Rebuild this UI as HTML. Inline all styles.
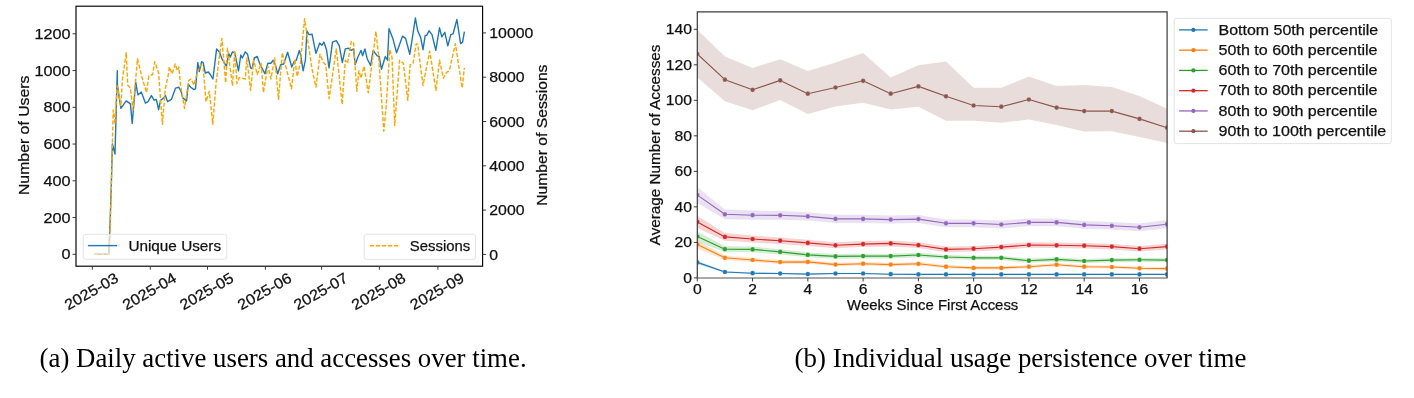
<!DOCTYPE html>
<html><head><meta charset="utf-8"><style>
html,body{margin:0;padding:0;background:#fff;width:1414px;height:398px;overflow:hidden}
svg{display:block;will-change:transform}
text{font-family:"Liberation Sans", sans-serif;stroke:#111;stroke-width:0.25px}
</style></head><body>
<svg width="1414" height="398" viewBox="0 0 1414 398">
<rect width="1414" height="398" fill="#fff"/>
<g>
<clipPath id="cl"><rect x="76.0" y="6.2" width="406.6" height="260.0"/></clipPath>
<g clip-path="url(#cl)" fill="none" stroke-linejoin="round">
<polyline points="94.2,254.3 108.8,254.3 110.2,220.0 111.3,185.0 112.4,144.0 115.0,154.0 117.3,70.6 117.4,85.1 120.9,108.4 126.2,100.9 130.4,103.9 132.2,123.5 135.7,82.1 137.9,94.9 141.3,91.9 145.5,103.2 148.0,101.7 151.4,95.6 154.1,100.2 156.3,99.4 158.6,109.5 160.6,100.2 163.9,97.9 165.4,95.6 167.6,101.7 171.4,99.4 175.6,88.1 178.9,87.3 181.2,91.9 182.7,97.9 186.5,100.9 188.3,84.3 190.7,87.3 194.0,89.6 195.5,88.8 197.8,62.5 199.3,71.5 201.6,61.7 203.1,62.5 205.3,73.0 208.3,72.0 210.6,75.0 212.9,79.0 216.6,48.9 219.4,51.9 221.9,58.7 226.4,66.3 228.7,53.4 230.2,57.2 232.5,51.9 234.7,52.7 238.5,70.8 240.8,55.0 242.3,58.0 245.3,51.9 247.5,54.2 250.6,67.8 252.1,68.5 254.3,58.0 257.3,56.5 259.6,63.2 264.9,73.8 267.9,63.2 270.9,63.2 273.2,60.2 275.4,64.8 277.7,73.8 280.7,64.8 283.7,64.0 287.6,52.3 291.8,67.0 294.0,61.7 296.3,60.2 299.3,50.4 300.8,55.7 303.1,70.8 305.4,60.2 306.9,30.8 309.1,34.6 312.1,34.3 315.9,53.4 319.7,42.9 321.9,45.2 323.9,42.1 326.5,49.7 329.0,67.8 332.5,42.1 336.3,40.6 339.3,45.9 342.3,62.5 345.3,48.9 348.3,48.2 351.3,50.4 353.6,48.9 355.1,64.8 358.1,56.5 361.1,50.4 362.6,55.7 364.9,48.9 367.2,58.7 370.6,65.5 373.2,50.4 377.0,55.7 379.2,56.5 381.5,69.3 385.3,56.5 387.5,60.2 389.0,28.6 392.8,38.4 396.6,52.7 402.6,36.1 405.6,38.4 409.8,54.2 413.1,33.1 415.4,18.0 417.7,30.8 420.7,37.6 423.0,49.7 425.2,35.4 426.7,35.4 429.0,30.8 432.0,34.6 435.8,50.4 439.5,27.8 441.8,36.9 444.8,32.3 447.8,45.9 450.8,34.6 453.1,33.8 456.9,19.5 460.6,43.6 462.6,42.1 464.4,31.6" stroke="#1f77b4" stroke-width="1.4"/>
<polyline points="94.2,254.3 108.3,254.3 109.5,250.0 110.3,220.0 111.4,185.0 113.2,110.0 114.9,124.3 117.1,85.8 120.9,106.2 122.4,79.8 126.2,52.7 127.7,85.1 130.4,88.1 133.0,110.0 137.5,58.7 142.0,77.5 146.5,92.6 148.8,76.0 152.6,74.5 154.8,61.7 158.6,73.0 162.4,124.3 165.4,88.1 168.4,74.5 169.2,67.0 172.2,73.8 175.2,64.0 177.4,70.8 178.9,67.0 180.5,85.1 184.5,108.4 188.7,80.6 191.0,79.0 194.0,85.1 196.3,76.0 200.5,64.8 203.1,67.0 206.0,101.7 209.3,91.3 212.8,124.3 216.1,82.9 218.4,64.1 221.9,38.4 225.7,82.8 227.5,48.2 232.5,85.8 234.7,50.4 237.0,83.6 239.3,77.5 245.3,79.0 246.8,58.0 250.6,90.4 253.6,60.2 257.3,74.5 261.1,63.2 263.4,92.6 267.9,66.3 270.9,79.0 274.7,58.0 278.5,99.4 282.2,52.7 291.5,88.8 294.8,59.5 297.2,76.5 300.5,62.0 304.6,18.8 309.9,55.0 312.1,69.3 316.0,87.1 320.0,54.2 323.4,62.5 325.7,64.8 329.1,98.6 336.3,48.9 342.1,104.3 345.3,60.2 347.6,63.2 351.3,41.4 353.6,42.9 356.8,91.2 358.9,70.8 360.9,78.2 364.1,66.3 368.3,92.9 375.9,31.6 378.5,55.0 383.8,131.2 386.2,105.9 389.8,49.7 392.0,57.2 394.7,125.5 399.6,60.2 403.3,63.2 407.8,100.2 410.1,64.8 413.1,63.2 416.2,43.6 417.7,44.4 423.0,85.5 429.7,51.2 436.0,90.4 439.5,60.2 442.5,73.8 443.4,78.2 446.6,72.4 449.3,70.8 455.4,43.6 462.1,88.0 464.4,67.8" stroke="#ffa500" stroke-width="1.4" stroke-dasharray="4.2 1.8"/>
</g>
<rect x="76.0" y="6.2" width="406.6" height="260.0" fill="none" stroke="#000" stroke-width="1.15"/>
<line x1="72.5" y1="254.30" x2="76.0" y2="254.30" stroke="#333" stroke-width="0.95"/>
<text x="70.60" y="259.30" text-anchor="end" font-size="14.95" textLength="9.03" lengthAdjust="spacingAndGlyphs" fill="#111">0</text>
<line x1="72.5" y1="217.55" x2="76.0" y2="217.55" stroke="#333" stroke-width="0.95"/>
<text x="70.60" y="222.55" text-anchor="end" font-size="14.95" textLength="27.10" lengthAdjust="spacingAndGlyphs" fill="#111">200</text>
<line x1="72.5" y1="180.80" x2="76.0" y2="180.80" stroke="#333" stroke-width="0.95"/>
<text x="70.60" y="185.80" text-anchor="end" font-size="14.95" textLength="27.10" lengthAdjust="spacingAndGlyphs" fill="#111">400</text>
<line x1="72.5" y1="144.05" x2="76.0" y2="144.05" stroke="#333" stroke-width="0.95"/>
<text x="70.60" y="149.05" text-anchor="end" font-size="14.95" textLength="27.10" lengthAdjust="spacingAndGlyphs" fill="#111">600</text>
<line x1="72.5" y1="107.30" x2="76.0" y2="107.30" stroke="#333" stroke-width="0.95"/>
<text x="70.60" y="112.30" text-anchor="end" font-size="14.95" textLength="27.10" lengthAdjust="spacingAndGlyphs" fill="#111">800</text>
<line x1="72.5" y1="70.55" x2="76.0" y2="70.55" stroke="#333" stroke-width="0.95"/>
<text x="70.60" y="75.55" text-anchor="end" font-size="14.95" textLength="36.14" lengthAdjust="spacingAndGlyphs" fill="#111">1000</text>
<line x1="72.5" y1="33.80" x2="76.0" y2="33.80" stroke="#333" stroke-width="0.95"/>
<text x="70.60" y="38.80" text-anchor="end" font-size="14.95" textLength="36.14" lengthAdjust="spacingAndGlyphs" fill="#111">1200</text>
<line x1="482.6" y1="254.40" x2="486.1" y2="254.40" stroke="#333" stroke-width="0.95"/>
<text x="489.30" y="259.50" text-anchor="start" font-size="14.95" textLength="8.81" lengthAdjust="spacingAndGlyphs" fill="#111">0</text>
<line x1="482.6" y1="210.10" x2="486.1" y2="210.10" stroke="#333" stroke-width="0.95"/>
<text x="489.30" y="215.20" text-anchor="start" font-size="14.95" textLength="35.25" lengthAdjust="spacingAndGlyphs" fill="#111">2000</text>
<line x1="482.6" y1="165.80" x2="486.1" y2="165.80" stroke="#333" stroke-width="0.95"/>
<text x="489.30" y="170.90" text-anchor="start" font-size="14.95" textLength="35.25" lengthAdjust="spacingAndGlyphs" fill="#111">4000</text>
<line x1="482.6" y1="121.50" x2="486.1" y2="121.50" stroke="#333" stroke-width="0.95"/>
<text x="489.30" y="126.60" text-anchor="start" font-size="14.95" textLength="35.25" lengthAdjust="spacingAndGlyphs" fill="#111">6000</text>
<line x1="482.6" y1="77.20" x2="486.1" y2="77.20" stroke="#333" stroke-width="0.95"/>
<text x="489.30" y="82.30" text-anchor="start" font-size="14.95" textLength="35.25" lengthAdjust="spacingAndGlyphs" fill="#111">8000</text>
<line x1="482.6" y1="32.90" x2="486.1" y2="32.90" stroke="#333" stroke-width="0.95"/>
<text x="489.30" y="38.00" text-anchor="start" font-size="14.95" textLength="44.06" lengthAdjust="spacingAndGlyphs" fill="#111">10000</text>
<line x1="92.3" y1="266.2" x2="92.3" y2="269.7" stroke="#333" stroke-width="0.95"/>
<g transform="translate(91.40,291.3) rotate(-30)">
<text x="0.00" y="5.10" text-anchor="middle" font-size="14.95" textLength="59.33" lengthAdjust="spacingAndGlyphs" fill="#111">2025-03</text>
</g>
<line x1="150.3" y1="266.2" x2="150.3" y2="269.7" stroke="#333" stroke-width="0.95"/>
<g transform="translate(149.40,291.3) rotate(-30)">
<text x="0.00" y="5.10" text-anchor="middle" font-size="14.95" textLength="59.33" lengthAdjust="spacingAndGlyphs" fill="#111">2025-04</text>
</g>
<line x1="207.5" y1="266.2" x2="207.5" y2="269.7" stroke="#333" stroke-width="0.95"/>
<g transform="translate(206.60,291.3) rotate(-30)">
<text x="0.00" y="5.10" text-anchor="middle" font-size="14.95" textLength="59.33" lengthAdjust="spacingAndGlyphs" fill="#111">2025-05</text>
</g>
<line x1="265.4" y1="266.2" x2="265.4" y2="269.7" stroke="#333" stroke-width="0.95"/>
<g transform="translate(264.50,291.3) rotate(-30)">
<text x="0.00" y="5.10" text-anchor="middle" font-size="14.95" textLength="59.33" lengthAdjust="spacingAndGlyphs" fill="#111">2025-06</text>
</g>
<line x1="321.6" y1="266.2" x2="321.6" y2="269.7" stroke="#333" stroke-width="0.95"/>
<g transform="translate(320.70,291.3) rotate(-30)">
<text x="0.00" y="5.10" text-anchor="middle" font-size="14.95" textLength="59.33" lengthAdjust="spacingAndGlyphs" fill="#111">2025-07</text>
</g>
<line x1="379.4" y1="266.2" x2="379.4" y2="269.7" stroke="#333" stroke-width="0.95"/>
<g transform="translate(378.50,291.3) rotate(-30)">
<text x="0.00" y="5.10" text-anchor="middle" font-size="14.95" textLength="59.33" lengthAdjust="spacingAndGlyphs" fill="#111">2025-08</text>
</g>
<line x1="437.9" y1="266.2" x2="437.9" y2="269.7" stroke="#333" stroke-width="0.95"/>
<g transform="translate(437.00,291.3) rotate(-30)">
<text x="0.00" y="5.10" text-anchor="middle" font-size="14.95" textLength="59.33" lengthAdjust="spacingAndGlyphs" fill="#111">2025-09</text>
</g>
<g transform="translate(28.9,135.3) rotate(-90)">
<text x="0.00" y="0.00" text-anchor="middle" font-size="14.95" textLength="119.52" lengthAdjust="spacingAndGlyphs" fill="#111">Number of Users</text>
</g>
<g transform="translate(546.9,135.2) rotate(-90)">
<text x="0.00" y="0.00" text-anchor="middle" font-size="14.95" textLength="141.33" lengthAdjust="spacingAndGlyphs" fill="#111">Number of Sessions</text>
</g>
<rect x="83.2" y="234.3" width="143.6" height="24.9" rx="2.5" fill="#fff" fill-opacity="0.6" stroke="#e3e3e3" stroke-width="1"/>
<line x1="87.9" y1="245.6" x2="117.1" y2="245.6" stroke="#1f77b4" stroke-width="1.4"/>
<text x="128.40" y="250.50" text-anchor="start" font-size="14.95" textLength="92.71" lengthAdjust="spacingAndGlyphs" fill="#111">Unique Users</text>
<rect x="364.2" y="234.2" width="111.4" height="25.2" rx="2.5" fill="#fff" fill-opacity="0.6" stroke="#e3e3e3" stroke-width="1"/>
<line x1="369.9" y1="245.8" x2="398.1" y2="245.8" stroke="#ffa500" stroke-width="1.4" stroke-dasharray="4.2 1.8"/>
<text x="409.80" y="250.90" text-anchor="start" font-size="14.95" textLength="60.49" lengthAdjust="spacingAndGlyphs" fill="#111">Sessions</text>
</g>
<clipPath id="cr"><rect x="697.3" y="11.85" width="469.79999999999995" height="266.15"/></clipPath>
<g clip-path="url(#cr)">
<polygon points="697.3,260.7 724.9,271.1 752.6,272.5 780.2,272.8 807.8,273.4 835.5,272.8 863.1,272.8 890.7,273.5 918.4,273.7 946.0,273.7 973.6,273.7 1001.3,273.7 1028.9,273.7 1056.6,273.7 1084.2,273.7 1111.8,273.7 1139.5,273.7 1167.1,273.7 1167.1,275.1 1139.5,275.1 1111.8,275.1 1084.2,275.1 1056.6,275.1 1028.9,275.1 1001.3,275.1 973.6,275.1 946.0,275.1 918.4,275.1 890.7,275.0 863.1,274.2 835.5,274.2 807.8,274.8 780.2,274.2 752.6,273.9 724.9,272.8 697.3,264.2" fill="#1f77b4" fill-opacity="0.2" stroke="none"/>
<polygon points="697.3,240.4 724.9,255.6 752.6,257.8 780.2,260.1 807.8,260.0 835.5,262.8 863.1,261.9 890.7,262.8 918.4,262.0 946.0,265.1 973.6,266.3 1001.3,266.3 1028.9,265.1 1056.6,263.1 1084.2,265.1 1111.8,265.4 1139.5,266.7 1167.1,267.0 1167.1,270.2 1139.5,269.8 1111.8,268.6 1084.2,268.3 1056.6,266.3 1028.9,268.3 1001.3,269.5 973.6,269.5 946.0,268.3 918.4,265.5 890.7,266.3 863.1,265.4 835.5,266.3 807.8,263.8 780.2,264.0 752.6,262.1 724.9,260.1 697.3,248.5" fill="#ff7f0e" fill-opacity="0.2" stroke="none"/>
<polygon points="697.3,231.6 724.9,246.2 752.6,246.6 780.2,249.2 807.8,252.4 835.5,254.1 863.1,253.8 890.7,253.8 918.4,252.7 946.0,254.9 973.6,255.7 1001.3,255.7 1028.9,258.6 1056.6,257.3 1084.2,258.9 1111.8,258.0 1139.5,257.7 1167.1,258.0 1167.1,262.3 1139.5,261.9 1111.8,262.3 1084.2,263.1 1056.6,261.6 1028.9,262.8 1001.3,260.0 973.6,260.0 946.0,259.1 918.4,257.3 890.7,258.4 863.1,258.4 835.5,258.7 807.8,257.3 780.2,254.5 752.6,252.2 724.9,252.2 697.3,241.4" fill="#2ca02c" fill-opacity="0.2" stroke="none"/>
<polygon points="697.3,215.7 724.9,233.0 752.6,235.5 780.2,237.4 807.8,239.7 835.5,242.3 863.1,241.1 890.7,240.4 918.4,242.2 946.0,246.6 973.6,245.9 1001.3,244.3 1028.9,242.2 1056.6,242.5 1084.2,242.9 1111.8,243.7 1139.5,245.9 1167.1,243.7 1167.1,249.4 1139.5,251.5 1111.8,249.4 1084.2,248.5 1056.6,248.1 1028.9,247.8 1001.3,249.9 973.6,251.5 946.0,252.2 918.4,248.1 890.7,246.4 863.1,247.1 835.5,248.3 807.8,246.0 780.2,244.1 752.6,242.5 724.9,240.7 697.3,228.0" fill="#d62728" fill-opacity="0.2" stroke="none"/>
<polygon points="697.3,187.1 724.9,209.4 752.6,210.6 780.2,210.9 807.8,212.2 835.5,214.8 863.1,214.8 890.7,215.5 918.4,215.0 946.0,219.4 973.6,219.4 1001.3,220.6 1028.9,218.5 1056.6,218.5 1084.2,221.0 1111.8,221.9 1139.5,223.5 1167.1,220.1 1167.1,228.2 1139.5,231.2 1111.8,229.6 1084.2,228.8 1056.6,226.3 1028.9,226.3 1001.3,228.4 973.6,227.2 946.0,227.2 918.4,223.1 890.7,223.6 863.1,222.9 835.5,222.9 807.8,220.6 780.2,219.8 752.6,219.8 724.9,219.2 697.3,203.0" fill="#9467bd" fill-opacity="0.2" stroke="none"/>
<polygon points="697.3,29.7 724.9,56.6 752.6,67.9 780.2,59.3 807.8,71.1 835.5,62.5 863.1,52.9 890.7,77.4 918.4,65.3 946.0,61.4 973.6,87.8 1001.3,87.8 1028.9,76.6 1056.6,85.9 1084.2,85.0 1111.8,87.1 1139.5,96.0 1167.1,108.8 1167.1,142.9 1139.5,136.9 1111.8,131.2 1084.2,131.6 1056.6,124.9 1028.9,119.6 1001.3,122.8 973.6,120.8 946.0,120.8 918.4,106.7 890.7,109.5 863.1,102.7 835.5,106.5 807.8,113.9 780.2,100.0 752.6,110.2 724.9,101.3 697.3,77.4" fill="#8c564b" fill-opacity="0.2" stroke="none"/>
<polyline points="697.3,262.4 724.9,272.0 752.6,273.2 780.2,273.5 807.8,274.1 835.5,273.5 863.1,273.5 890.7,274.2 918.4,274.4 946.0,274.4 973.6,274.4 1001.3,274.4 1028.9,274.4 1056.6,274.4 1084.2,274.4 1111.8,274.4 1139.5,274.4 1167.1,274.4" fill="none" stroke="#1f77b4" stroke-width="1.15" stroke-linejoin="round"/>
<circle cx="697.3" cy="262.4" r="2.35" fill="#1f77b4" stroke="#fff" stroke-opacity="0.5" stroke-width="0.4"/>
<circle cx="724.9" cy="272.0" r="2.35" fill="#1f77b4" stroke="#fff" stroke-opacity="0.5" stroke-width="0.4"/>
<circle cx="752.6" cy="273.2" r="2.35" fill="#1f77b4" stroke="#fff" stroke-opacity="0.5" stroke-width="0.4"/>
<circle cx="780.2" cy="273.5" r="2.35" fill="#1f77b4" stroke="#fff" stroke-opacity="0.5" stroke-width="0.4"/>
<circle cx="807.8" cy="274.1" r="2.35" fill="#1f77b4" stroke="#fff" stroke-opacity="0.5" stroke-width="0.4"/>
<circle cx="835.5" cy="273.5" r="2.35" fill="#1f77b4" stroke="#fff" stroke-opacity="0.5" stroke-width="0.4"/>
<circle cx="863.1" cy="273.5" r="2.35" fill="#1f77b4" stroke="#fff" stroke-opacity="0.5" stroke-width="0.4"/>
<circle cx="890.7" cy="274.2" r="2.35" fill="#1f77b4" stroke="#fff" stroke-opacity="0.5" stroke-width="0.4"/>
<circle cx="918.4" cy="274.4" r="2.35" fill="#1f77b4" stroke="#fff" stroke-opacity="0.5" stroke-width="0.4"/>
<circle cx="946.0" cy="274.4" r="2.35" fill="#1f77b4" stroke="#fff" stroke-opacity="0.5" stroke-width="0.4"/>
<circle cx="973.6" cy="274.4" r="2.35" fill="#1f77b4" stroke="#fff" stroke-opacity="0.5" stroke-width="0.4"/>
<circle cx="1001.3" cy="274.4" r="2.35" fill="#1f77b4" stroke="#fff" stroke-opacity="0.5" stroke-width="0.4"/>
<circle cx="1028.9" cy="274.4" r="2.35" fill="#1f77b4" stroke="#fff" stroke-opacity="0.5" stroke-width="0.4"/>
<circle cx="1056.6" cy="274.4" r="2.35" fill="#1f77b4" stroke="#fff" stroke-opacity="0.5" stroke-width="0.4"/>
<circle cx="1084.2" cy="274.4" r="2.35" fill="#1f77b4" stroke="#fff" stroke-opacity="0.5" stroke-width="0.4"/>
<circle cx="1111.8" cy="274.4" r="2.35" fill="#1f77b4" stroke="#fff" stroke-opacity="0.5" stroke-width="0.4"/>
<circle cx="1139.5" cy="274.4" r="2.35" fill="#1f77b4" stroke="#fff" stroke-opacity="0.5" stroke-width="0.4"/>
<circle cx="1167.1" cy="274.4" r="2.35" fill="#1f77b4" stroke="#fff" stroke-opacity="0.5" stroke-width="0.4"/>
<polyline points="697.3,244.4 724.9,257.8 752.6,260.0 780.2,262.1 807.8,261.9 835.5,264.6 863.1,263.7 890.7,264.6 918.4,263.8 946.0,266.7 973.6,267.9 1001.3,267.9 1028.9,266.7 1056.6,264.7 1084.2,266.7 1111.8,267.0 1139.5,268.3 1167.1,268.6" fill="none" stroke="#ff7f0e" stroke-width="1.15" stroke-linejoin="round"/>
<circle cx="697.3" cy="244.4" r="2.35" fill="#ff7f0e" stroke="#fff" stroke-opacity="0.5" stroke-width="0.4"/>
<circle cx="724.9" cy="257.8" r="2.35" fill="#ff7f0e" stroke="#fff" stroke-opacity="0.5" stroke-width="0.4"/>
<circle cx="752.6" cy="260.0" r="2.35" fill="#ff7f0e" stroke="#fff" stroke-opacity="0.5" stroke-width="0.4"/>
<circle cx="780.2" cy="262.1" r="2.35" fill="#ff7f0e" stroke="#fff" stroke-opacity="0.5" stroke-width="0.4"/>
<circle cx="807.8" cy="261.9" r="2.35" fill="#ff7f0e" stroke="#fff" stroke-opacity="0.5" stroke-width="0.4"/>
<circle cx="835.5" cy="264.6" r="2.35" fill="#ff7f0e" stroke="#fff" stroke-opacity="0.5" stroke-width="0.4"/>
<circle cx="863.1" cy="263.7" r="2.35" fill="#ff7f0e" stroke="#fff" stroke-opacity="0.5" stroke-width="0.4"/>
<circle cx="890.7" cy="264.6" r="2.35" fill="#ff7f0e" stroke="#fff" stroke-opacity="0.5" stroke-width="0.4"/>
<circle cx="918.4" cy="263.8" r="2.35" fill="#ff7f0e" stroke="#fff" stroke-opacity="0.5" stroke-width="0.4"/>
<circle cx="946.0" cy="266.7" r="2.35" fill="#ff7f0e" stroke="#fff" stroke-opacity="0.5" stroke-width="0.4"/>
<circle cx="973.6" cy="267.9" r="2.35" fill="#ff7f0e" stroke="#fff" stroke-opacity="0.5" stroke-width="0.4"/>
<circle cx="1001.3" cy="267.9" r="2.35" fill="#ff7f0e" stroke="#fff" stroke-opacity="0.5" stroke-width="0.4"/>
<circle cx="1028.9" cy="266.7" r="2.35" fill="#ff7f0e" stroke="#fff" stroke-opacity="0.5" stroke-width="0.4"/>
<circle cx="1056.6" cy="264.7" r="2.35" fill="#ff7f0e" stroke="#fff" stroke-opacity="0.5" stroke-width="0.4"/>
<circle cx="1084.2" cy="266.7" r="2.35" fill="#ff7f0e" stroke="#fff" stroke-opacity="0.5" stroke-width="0.4"/>
<circle cx="1111.8" cy="267.0" r="2.35" fill="#ff7f0e" stroke="#fff" stroke-opacity="0.5" stroke-width="0.4"/>
<circle cx="1139.5" cy="268.3" r="2.35" fill="#ff7f0e" stroke="#fff" stroke-opacity="0.5" stroke-width="0.4"/>
<circle cx="1167.1" cy="268.6" r="2.35" fill="#ff7f0e" stroke="#fff" stroke-opacity="0.5" stroke-width="0.4"/>
<polyline points="697.3,236.5 724.9,249.2 752.6,249.4 780.2,251.9 807.8,254.9 835.5,256.4 863.1,256.1 890.7,256.1 918.4,255.0 946.0,257.0 973.6,257.8 1001.3,257.8 1028.9,260.7 1056.6,259.4 1084.2,261.0 1111.8,260.1 1139.5,259.8 1167.1,260.1" fill="none" stroke="#2ca02c" stroke-width="1.15" stroke-linejoin="round"/>
<circle cx="697.3" cy="236.5" r="2.35" fill="#2ca02c" stroke="#fff" stroke-opacity="0.5" stroke-width="0.4"/>
<circle cx="724.9" cy="249.2" r="2.35" fill="#2ca02c" stroke="#fff" stroke-opacity="0.5" stroke-width="0.4"/>
<circle cx="752.6" cy="249.4" r="2.35" fill="#2ca02c" stroke="#fff" stroke-opacity="0.5" stroke-width="0.4"/>
<circle cx="780.2" cy="251.9" r="2.35" fill="#2ca02c" stroke="#fff" stroke-opacity="0.5" stroke-width="0.4"/>
<circle cx="807.8" cy="254.9" r="2.35" fill="#2ca02c" stroke="#fff" stroke-opacity="0.5" stroke-width="0.4"/>
<circle cx="835.5" cy="256.4" r="2.35" fill="#2ca02c" stroke="#fff" stroke-opacity="0.5" stroke-width="0.4"/>
<circle cx="863.1" cy="256.1" r="2.35" fill="#2ca02c" stroke="#fff" stroke-opacity="0.5" stroke-width="0.4"/>
<circle cx="890.7" cy="256.1" r="2.35" fill="#2ca02c" stroke="#fff" stroke-opacity="0.5" stroke-width="0.4"/>
<circle cx="918.4" cy="255.0" r="2.35" fill="#2ca02c" stroke="#fff" stroke-opacity="0.5" stroke-width="0.4"/>
<circle cx="946.0" cy="257.0" r="2.35" fill="#2ca02c" stroke="#fff" stroke-opacity="0.5" stroke-width="0.4"/>
<circle cx="973.6" cy="257.8" r="2.35" fill="#2ca02c" stroke="#fff" stroke-opacity="0.5" stroke-width="0.4"/>
<circle cx="1001.3" cy="257.8" r="2.35" fill="#2ca02c" stroke="#fff" stroke-opacity="0.5" stroke-width="0.4"/>
<circle cx="1028.9" cy="260.7" r="2.35" fill="#2ca02c" stroke="#fff" stroke-opacity="0.5" stroke-width="0.4"/>
<circle cx="1056.6" cy="259.4" r="2.35" fill="#2ca02c" stroke="#fff" stroke-opacity="0.5" stroke-width="0.4"/>
<circle cx="1084.2" cy="261.0" r="2.35" fill="#2ca02c" stroke="#fff" stroke-opacity="0.5" stroke-width="0.4"/>
<circle cx="1111.8" cy="260.1" r="2.35" fill="#2ca02c" stroke="#fff" stroke-opacity="0.5" stroke-width="0.4"/>
<circle cx="1139.5" cy="259.8" r="2.35" fill="#2ca02c" stroke="#fff" stroke-opacity="0.5" stroke-width="0.4"/>
<circle cx="1167.1" cy="260.1" r="2.35" fill="#2ca02c" stroke="#fff" stroke-opacity="0.5" stroke-width="0.4"/>
<polyline points="697.3,221.9 724.9,236.9 752.6,239.0 780.2,240.7 807.8,242.9 835.5,245.3 863.1,244.1 890.7,243.4 918.4,245.2 946.0,249.4 973.6,248.7 1001.3,247.1 1028.9,245.0 1056.6,245.3 1084.2,245.7 1111.8,246.6 1139.5,248.7 1167.1,246.6" fill="none" stroke="#d62728" stroke-width="1.15" stroke-linejoin="round"/>
<circle cx="697.3" cy="221.9" r="2.35" fill="#d62728" stroke="#fff" stroke-opacity="0.5" stroke-width="0.4"/>
<circle cx="724.9" cy="236.9" r="2.35" fill="#d62728" stroke="#fff" stroke-opacity="0.5" stroke-width="0.4"/>
<circle cx="752.6" cy="239.0" r="2.35" fill="#d62728" stroke="#fff" stroke-opacity="0.5" stroke-width="0.4"/>
<circle cx="780.2" cy="240.7" r="2.35" fill="#d62728" stroke="#fff" stroke-opacity="0.5" stroke-width="0.4"/>
<circle cx="807.8" cy="242.9" r="2.35" fill="#d62728" stroke="#fff" stroke-opacity="0.5" stroke-width="0.4"/>
<circle cx="835.5" cy="245.3" r="2.35" fill="#d62728" stroke="#fff" stroke-opacity="0.5" stroke-width="0.4"/>
<circle cx="863.1" cy="244.1" r="2.35" fill="#d62728" stroke="#fff" stroke-opacity="0.5" stroke-width="0.4"/>
<circle cx="890.7" cy="243.4" r="2.35" fill="#d62728" stroke="#fff" stroke-opacity="0.5" stroke-width="0.4"/>
<circle cx="918.4" cy="245.2" r="2.35" fill="#d62728" stroke="#fff" stroke-opacity="0.5" stroke-width="0.4"/>
<circle cx="946.0" cy="249.4" r="2.35" fill="#d62728" stroke="#fff" stroke-opacity="0.5" stroke-width="0.4"/>
<circle cx="973.6" cy="248.7" r="2.35" fill="#d62728" stroke="#fff" stroke-opacity="0.5" stroke-width="0.4"/>
<circle cx="1001.3" cy="247.1" r="2.35" fill="#d62728" stroke="#fff" stroke-opacity="0.5" stroke-width="0.4"/>
<circle cx="1028.9" cy="245.0" r="2.35" fill="#d62728" stroke="#fff" stroke-opacity="0.5" stroke-width="0.4"/>
<circle cx="1056.6" cy="245.3" r="2.35" fill="#d62728" stroke="#fff" stroke-opacity="0.5" stroke-width="0.4"/>
<circle cx="1084.2" cy="245.7" r="2.35" fill="#d62728" stroke="#fff" stroke-opacity="0.5" stroke-width="0.4"/>
<circle cx="1111.8" cy="246.6" r="2.35" fill="#d62728" stroke="#fff" stroke-opacity="0.5" stroke-width="0.4"/>
<circle cx="1139.5" cy="248.7" r="2.35" fill="#d62728" stroke="#fff" stroke-opacity="0.5" stroke-width="0.4"/>
<circle cx="1167.1" cy="246.6" r="2.35" fill="#d62728" stroke="#fff" stroke-opacity="0.5" stroke-width="0.4"/>
<polyline points="697.3,195.1 724.9,214.3 752.6,215.2 780.2,215.3 807.8,216.4 835.5,218.9 863.1,218.9 890.7,219.6 918.4,219.1 946.0,223.3 973.6,223.3 1001.3,224.5 1028.9,222.4 1056.6,222.4 1084.2,224.9 1111.8,225.8 1139.5,227.3 1167.1,224.2" fill="none" stroke="#9467bd" stroke-width="1.15" stroke-linejoin="round"/>
<circle cx="697.3" cy="195.1" r="2.35" fill="#9467bd" stroke="#fff" stroke-opacity="0.5" stroke-width="0.4"/>
<circle cx="724.9" cy="214.3" r="2.35" fill="#9467bd" stroke="#fff" stroke-opacity="0.5" stroke-width="0.4"/>
<circle cx="752.6" cy="215.2" r="2.35" fill="#9467bd" stroke="#fff" stroke-opacity="0.5" stroke-width="0.4"/>
<circle cx="780.2" cy="215.3" r="2.35" fill="#9467bd" stroke="#fff" stroke-opacity="0.5" stroke-width="0.4"/>
<circle cx="807.8" cy="216.4" r="2.35" fill="#9467bd" stroke="#fff" stroke-opacity="0.5" stroke-width="0.4"/>
<circle cx="835.5" cy="218.9" r="2.35" fill="#9467bd" stroke="#fff" stroke-opacity="0.5" stroke-width="0.4"/>
<circle cx="863.1" cy="218.9" r="2.35" fill="#9467bd" stroke="#fff" stroke-opacity="0.5" stroke-width="0.4"/>
<circle cx="890.7" cy="219.6" r="2.35" fill="#9467bd" stroke="#fff" stroke-opacity="0.5" stroke-width="0.4"/>
<circle cx="918.4" cy="219.1" r="2.35" fill="#9467bd" stroke="#fff" stroke-opacity="0.5" stroke-width="0.4"/>
<circle cx="946.0" cy="223.3" r="2.35" fill="#9467bd" stroke="#fff" stroke-opacity="0.5" stroke-width="0.4"/>
<circle cx="973.6" cy="223.3" r="2.35" fill="#9467bd" stroke="#fff" stroke-opacity="0.5" stroke-width="0.4"/>
<circle cx="1001.3" cy="224.5" r="2.35" fill="#9467bd" stroke="#fff" stroke-opacity="0.5" stroke-width="0.4"/>
<circle cx="1028.9" cy="222.4" r="2.35" fill="#9467bd" stroke="#fff" stroke-opacity="0.5" stroke-width="0.4"/>
<circle cx="1056.6" cy="222.4" r="2.35" fill="#9467bd" stroke="#fff" stroke-opacity="0.5" stroke-width="0.4"/>
<circle cx="1084.2" cy="224.9" r="2.35" fill="#9467bd" stroke="#fff" stroke-opacity="0.5" stroke-width="0.4"/>
<circle cx="1111.8" cy="225.8" r="2.35" fill="#9467bd" stroke="#fff" stroke-opacity="0.5" stroke-width="0.4"/>
<circle cx="1139.5" cy="227.3" r="2.35" fill="#9467bd" stroke="#fff" stroke-opacity="0.5" stroke-width="0.4"/>
<circle cx="1167.1" cy="224.2" r="2.35" fill="#9467bd" stroke="#fff" stroke-opacity="0.5" stroke-width="0.4"/>
<polyline points="697.3,54.0 724.9,79.7 752.6,89.8 780.2,80.4 807.8,93.7 835.5,87.5 863.1,80.8 890.7,93.7 918.4,86.4 946.0,96.3 973.6,105.5 1001.3,106.7 1028.9,99.5 1056.6,107.6 1084.2,111.1 1111.8,111.1 1139.5,118.9 1167.1,127.7" fill="none" stroke="#8c564b" stroke-width="1.15" stroke-linejoin="round"/>
<circle cx="697.3" cy="54.0" r="2.35" fill="#8c564b" stroke="#fff" stroke-opacity="0.5" stroke-width="0.4"/>
<circle cx="724.9" cy="79.7" r="2.35" fill="#8c564b" stroke="#fff" stroke-opacity="0.5" stroke-width="0.4"/>
<circle cx="752.6" cy="89.8" r="2.35" fill="#8c564b" stroke="#fff" stroke-opacity="0.5" stroke-width="0.4"/>
<circle cx="780.2" cy="80.4" r="2.35" fill="#8c564b" stroke="#fff" stroke-opacity="0.5" stroke-width="0.4"/>
<circle cx="807.8" cy="93.7" r="2.35" fill="#8c564b" stroke="#fff" stroke-opacity="0.5" stroke-width="0.4"/>
<circle cx="835.5" cy="87.5" r="2.35" fill="#8c564b" stroke="#fff" stroke-opacity="0.5" stroke-width="0.4"/>
<circle cx="863.1" cy="80.8" r="2.35" fill="#8c564b" stroke="#fff" stroke-opacity="0.5" stroke-width="0.4"/>
<circle cx="890.7" cy="93.7" r="2.35" fill="#8c564b" stroke="#fff" stroke-opacity="0.5" stroke-width="0.4"/>
<circle cx="918.4" cy="86.4" r="2.35" fill="#8c564b" stroke="#fff" stroke-opacity="0.5" stroke-width="0.4"/>
<circle cx="946.0" cy="96.3" r="2.35" fill="#8c564b" stroke="#fff" stroke-opacity="0.5" stroke-width="0.4"/>
<circle cx="973.6" cy="105.5" r="2.35" fill="#8c564b" stroke="#fff" stroke-opacity="0.5" stroke-width="0.4"/>
<circle cx="1001.3" cy="106.7" r="2.35" fill="#8c564b" stroke="#fff" stroke-opacity="0.5" stroke-width="0.4"/>
<circle cx="1028.9" cy="99.5" r="2.35" fill="#8c564b" stroke="#fff" stroke-opacity="0.5" stroke-width="0.4"/>
<circle cx="1056.6" cy="107.6" r="2.35" fill="#8c564b" stroke="#fff" stroke-opacity="0.5" stroke-width="0.4"/>
<circle cx="1084.2" cy="111.1" r="2.35" fill="#8c564b" stroke="#fff" stroke-opacity="0.5" stroke-width="0.4"/>
<circle cx="1111.8" cy="111.1" r="2.35" fill="#8c564b" stroke="#fff" stroke-opacity="0.5" stroke-width="0.4"/>
<circle cx="1139.5" cy="118.9" r="2.35" fill="#8c564b" stroke="#fff" stroke-opacity="0.5" stroke-width="0.4"/>
<circle cx="1167.1" cy="127.7" r="2.35" fill="#8c564b" stroke="#fff" stroke-opacity="0.5" stroke-width="0.4"/>
</g>
<path d="M697.3,278.0 V11.85 H1167.1 V278.0" fill="none" stroke="#3a3a3a" stroke-width="1.2"/>
<line x1="696.8" y1="278.0" x2="1167.6" y2="278.0" stroke="#555" stroke-width="1.1"/>
<line x1="693.8" y1="277.90" x2="697.3" y2="277.90" stroke="#333" stroke-width="0.95"/>
<text x="692.00" y="282.90" text-anchor="end" font-size="14.5" textLength="8.75" lengthAdjust="spacingAndGlyphs" fill="#111">0</text>
<line x1="693.8" y1="242.38" x2="697.3" y2="242.38" stroke="#333" stroke-width="0.95"/>
<text x="692.00" y="247.38" text-anchor="end" font-size="14.5" textLength="17.50" lengthAdjust="spacingAndGlyphs" fill="#111">20</text>
<line x1="693.8" y1="206.87" x2="697.3" y2="206.87" stroke="#333" stroke-width="0.95"/>
<text x="692.00" y="211.87" text-anchor="end" font-size="14.5" textLength="17.50" lengthAdjust="spacingAndGlyphs" fill="#111">40</text>
<line x1="693.8" y1="171.35" x2="697.3" y2="171.35" stroke="#333" stroke-width="0.95"/>
<text x="692.00" y="176.35" text-anchor="end" font-size="14.5" textLength="17.50" lengthAdjust="spacingAndGlyphs" fill="#111">60</text>
<line x1="693.8" y1="135.84" x2="697.3" y2="135.84" stroke="#333" stroke-width="0.95"/>
<text x="692.00" y="140.84" text-anchor="end" font-size="14.5" textLength="17.50" lengthAdjust="spacingAndGlyphs" fill="#111">80</text>
<line x1="693.8" y1="100.32" x2="697.3" y2="100.32" stroke="#333" stroke-width="0.95"/>
<text x="692.00" y="105.32" text-anchor="end" font-size="14.5" textLength="26.24" lengthAdjust="spacingAndGlyphs" fill="#111">100</text>
<line x1="693.8" y1="64.80" x2="697.3" y2="64.80" stroke="#333" stroke-width="0.95"/>
<text x="692.00" y="69.80" text-anchor="end" font-size="14.5" textLength="26.24" lengthAdjust="spacingAndGlyphs" fill="#111">120</text>
<line x1="693.8" y1="29.29" x2="697.3" y2="29.29" stroke="#333" stroke-width="0.95"/>
<text x="692.00" y="34.29" text-anchor="end" font-size="14.5" textLength="26.24" lengthAdjust="spacingAndGlyphs" fill="#111">140</text>
<line x1="697.30" y1="278.0" x2="697.30" y2="281.5" stroke="#333" stroke-width="0.95"/>
<text x="697.30" y="293.90" text-anchor="middle" font-size="14.5" textLength="8.75" lengthAdjust="spacingAndGlyphs" fill="#111">0</text>
<line x1="752.57" y1="278.0" x2="752.57" y2="281.5" stroke="#333" stroke-width="0.95"/>
<text x="752.57" y="293.90" text-anchor="middle" font-size="14.5" textLength="8.75" lengthAdjust="spacingAndGlyphs" fill="#111">2</text>
<line x1="807.84" y1="278.0" x2="807.84" y2="281.5" stroke="#333" stroke-width="0.95"/>
<text x="807.84" y="293.90" text-anchor="middle" font-size="14.5" textLength="8.75" lengthAdjust="spacingAndGlyphs" fill="#111">4</text>
<line x1="863.11" y1="278.0" x2="863.11" y2="281.5" stroke="#333" stroke-width="0.95"/>
<text x="863.11" y="293.90" text-anchor="middle" font-size="14.5" textLength="8.75" lengthAdjust="spacingAndGlyphs" fill="#111">6</text>
<line x1="918.38" y1="278.0" x2="918.38" y2="281.5" stroke="#333" stroke-width="0.95"/>
<text x="918.38" y="293.90" text-anchor="middle" font-size="14.5" textLength="8.75" lengthAdjust="spacingAndGlyphs" fill="#111">8</text>
<line x1="973.65" y1="278.0" x2="973.65" y2="281.5" stroke="#333" stroke-width="0.95"/>
<text x="973.65" y="293.90" text-anchor="middle" font-size="14.5" textLength="17.50" lengthAdjust="spacingAndGlyphs" fill="#111">10</text>
<line x1="1028.92" y1="278.0" x2="1028.92" y2="281.5" stroke="#333" stroke-width="0.95"/>
<text x="1028.92" y="293.90" text-anchor="middle" font-size="14.5" textLength="17.50" lengthAdjust="spacingAndGlyphs" fill="#111">12</text>
<line x1="1084.19" y1="278.0" x2="1084.19" y2="281.5" stroke="#333" stroke-width="0.95"/>
<text x="1084.19" y="293.90" text-anchor="middle" font-size="14.5" textLength="17.50" lengthAdjust="spacingAndGlyphs" fill="#111">14</text>
<line x1="1139.46" y1="278.0" x2="1139.46" y2="281.5" stroke="#333" stroke-width="0.95"/>
<text x="1139.46" y="293.90" text-anchor="middle" font-size="14.5" textLength="17.50" lengthAdjust="spacingAndGlyphs" fill="#111">16</text>
<text x="932.70" y="310.40" text-anchor="middle" font-size="14.5" textLength="171.24" lengthAdjust="spacingAndGlyphs" fill="#111">Weeks Since First Access</text>
<g transform="translate(660.05,144.9) rotate(-90)">
<text x="0.00" y="0.00" text-anchor="middle" font-size="14.5" textLength="200.76" lengthAdjust="spacingAndGlyphs" fill="#111">Average Number of Accesses</text>
</g>
<rect x="1174.2" y="18.4" width="217.1" height="125.2" rx="2.5" fill="#fff" fill-opacity="0.6" stroke="#e3e3e3" stroke-width="1"/>
<line x1="1179.1" y1="29.90" x2="1207.7" y2="29.90" stroke="#1f77b4" stroke-width="1.3"/>
<circle cx="1193.4" cy="29.90" r="2.1" fill="#1f77b4"/>
<text x="1218.60" y="34.60" text-anchor="start" font-size="14.5" textLength="159.54" lengthAdjust="spacingAndGlyphs" fill="#111">Bottom 50th percentile</text>
<line x1="1179.1" y1="50.16" x2="1207.7" y2="50.16" stroke="#ff7f0e" stroke-width="1.3"/>
<circle cx="1193.4" cy="50.16" r="2.1" fill="#ff7f0e"/>
<text x="1218.60" y="54.86" text-anchor="start" font-size="14.5" textLength="158.88" lengthAdjust="spacingAndGlyphs" fill="#111">50th to 60th percentile</text>
<line x1="1179.1" y1="70.42" x2="1207.7" y2="70.42" stroke="#2ca02c" stroke-width="1.3"/>
<circle cx="1193.4" cy="70.42" r="2.1" fill="#2ca02c"/>
<text x="1218.60" y="75.12" text-anchor="start" font-size="14.5" textLength="158.88" lengthAdjust="spacingAndGlyphs" fill="#111">60th to 70th percentile</text>
<line x1="1179.1" y1="90.68" x2="1207.7" y2="90.68" stroke="#d62728" stroke-width="1.3"/>
<circle cx="1193.4" cy="90.68" r="2.1" fill="#d62728"/>
<text x="1218.60" y="95.38" text-anchor="start" font-size="14.5" textLength="158.88" lengthAdjust="spacingAndGlyphs" fill="#111">70th to 80th percentile</text>
<line x1="1179.1" y1="110.94" x2="1207.7" y2="110.94" stroke="#9467bd" stroke-width="1.3"/>
<circle cx="1193.4" cy="110.94" r="2.1" fill="#9467bd"/>
<text x="1218.60" y="115.64" text-anchor="start" font-size="14.5" textLength="158.88" lengthAdjust="spacingAndGlyphs" fill="#111">80th to 90th percentile</text>
<line x1="1179.1" y1="131.20" x2="1207.7" y2="131.20" stroke="#8c564b" stroke-width="1.3"/>
<circle cx="1193.4" cy="131.20" r="2.1" fill="#8c564b"/>
<text x="1218.60" y="135.90" text-anchor="start" font-size="14.5" textLength="167.63" lengthAdjust="spacingAndGlyphs" fill="#111">90th to 100th percentile</text>
<text x="283.10" y="367.2" text-anchor="middle" style='font-family:"Liberation Serif", serif;stroke:none' font-size="27.3" fill="#000" textLength="487.0" lengthAdjust="spacingAndGlyphs">(a) Daily active users and accesses over time.</text>
<text x="1020.50" y="367.2" text-anchor="middle" style='font-family:"Liberation Serif", serif;stroke:none' font-size="27.3" fill="#000" textLength="451.8" lengthAdjust="spacingAndGlyphs">(b) Individual usage persistence over time</text>
</svg></body></html>
